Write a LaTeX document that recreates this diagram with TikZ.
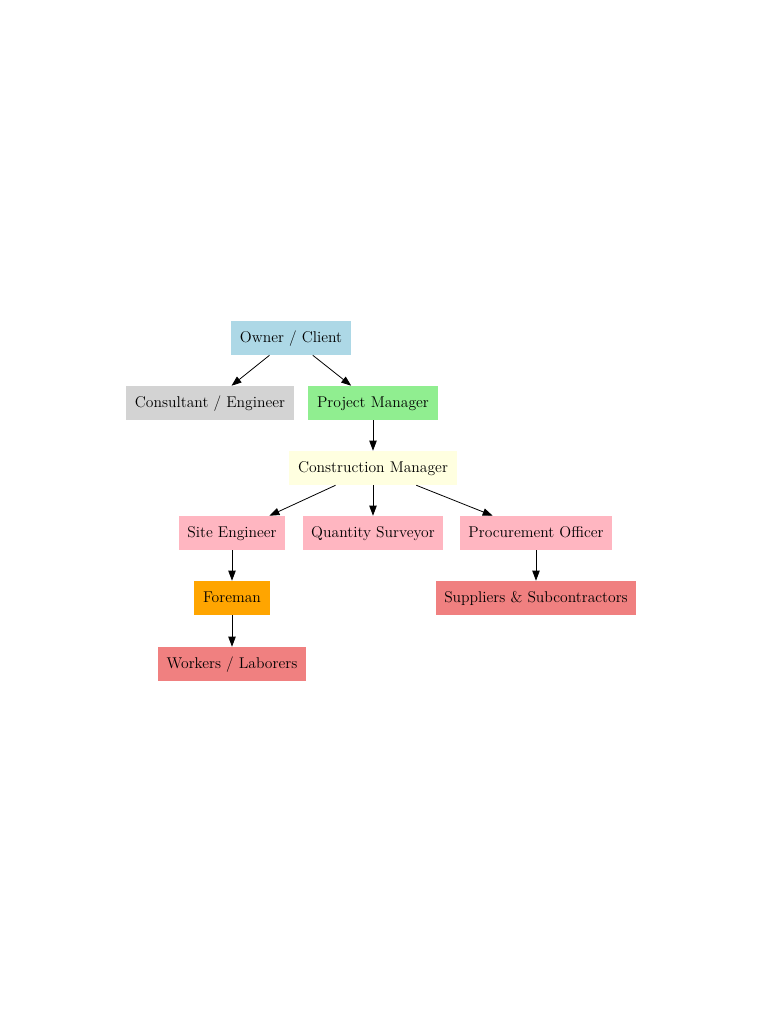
\documentclass[tikz,border=0pt]{standalone}
\usepackage{xcolor}
\usepackage{tikz}
\usetikzlibrary{shapes,arrows,arrows.meta}
\definecolor{clientblue}{HTML}{ADD8E6}
\definecolor{consultgray}{HTML}{D3D3D3}
\definecolor{pmgreen}{HTML}{90EE90}
\definecolor{cmyellow}{HTML}{FFFFE0}
\definecolor{staffpink}{HTML}{FFB6C1}
\definecolor{foreorange}{HTML}{FFA500}
\definecolor{crewcoral}{HTML}{F08080}
\tikzstyle{role} = [rectangle, minimum height=25.5pt, inner xsep=6.5pt, text height=1.6ex, text depth=0.4ex, text=black]
\tikzstyle{arrow} = [draw, -{Triangle[length=7.5pt, width=5.5pt]}, line width=0.6pt]

\begin{document}
\begin{tikzpicture}[x=0.75pt, y=-0.75pt]
\fontsize{11.7}{14}\selectfont
\useasboundingbox[fill=white] (0,0) rectangle (768,1024);

\node[role, fill=clientblue] at (291, 338) (owner) {Owner / Client};
\node[role, fill=consultgray] at (210, 403) (consult) {Consultant / Engineer};
\node[role, fill=pmgreen] at (373, 403) (pm) {Project Manager};
\node[role, fill=cmyellow] at (373, 468) (cm) {Construction Manager};
\node[role, fill=staffpink] at (232, 533) (site) {Site Engineer};
\node[role, fill=staffpink] at (373, 533) (qs) {Quantity Surveyor};
\node[role, fill=staffpink] at (536, 533) (procure) {Procurement Officer};
\node[role, fill=foreorange] at (232, 598) (foreman) {Foreman};
\node[role, fill=crewcoral] at (536, 598) (suppliers) {Suppliers \& Subcontractors};
\node[role, fill=crewcoral] at (232, 664) (workers) {Workers / Laborers};

\path[arrow] (owner) to (consult);
\path[arrow] (owner) to (pm);
\path[arrow] (pm) to (cm);
\path[arrow] (cm) to (site);
\path[arrow] (cm) to (qs);
\path[arrow] (cm) to (procure);
\path[arrow] (site) to (foreman);
\path[arrow] (foreman) to (workers);
\path[arrow] (procure) to (suppliers);
\end{tikzpicture}
\end{document}
